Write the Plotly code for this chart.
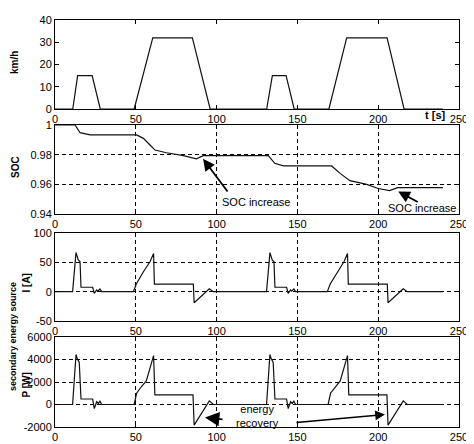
import plotly.graph_objects as go

# ---------------- data ----------------
t_speed = [0, 11, 14, 23, 28, 49, 60.5, 85, 96, 131, 134.5, 143, 148, 169.5, 180.5, 205.5, 216, 240]
speed = [0, 0, 15, 15, 0, 0, 32, 32, 0, 0, 15, 15, 0, 0, 32, 32, 0, 0]

t_soc = [0, 12.4, 15.5, 21.7, 50.5, 54.7, 58.8, 61.9, 69, 79.4, 87.5, 89.7, 91.8,
         132, 136, 141.3, 171.2, 176.4, 182.5, 192.9, 200, 207, 210, 212, 240]
soc = [1.0, 1.0, 0.9948, 0.9933, 0.9933, 0.991, 0.9865, 0.9831, 0.9813, 0.9793, 0.9772, 0.9785, 0.9793,
       0.9793, 0.9742, 0.9724, 0.9724, 0.9674, 0.9625, 0.9600, 0.9572, 0.9558, 0.9570, 0.9578, 0.9578]

t_cur = [0, 10.9, 13, 14.4, 15.5, 16.1, 23.3, 24.3, 25.8, 26.5, 27.8, 28.9,
         48.5, 50.3, 54.7, 58.8, 61, 61.5, 85.6, 86.1, 95.5, 98,
         130.9, 133, 134.4, 135.5, 136.1, 143.3, 144.3, 145.8, 146.5, 147.8, 148.9,
         168.5, 170.3, 174.7, 178.8, 181, 181.5, 205.6, 206.1, 215.5, 218, 240]
cur = [0, 0, 66.5, 54, 51, 7.5, 7.5, -3, 3, 1, 4.6, 0,
       0, 13, 34, 51, 65, 13, 13, -19, 5, 0,
       0, 66.5, 54, 51, 7.5, 7.5, -3, 3, 1, 4.6, 0,
       0, 13, 34, 51, 65, 13, 13, -19, 5, 0, 0]

t_pow = [0, 10.9, 13, 13.8, 15, 16.1, 23.3, 24.3, 25.8, 26.8, 27.8, 28.9,
         49, 50.5, 53.5, 56.5, 61, 61.8, 85.4, 86.1, 95.5, 98,
         130.9, 133, 133.8, 135, 136.1, 143.3, 144.3, 145.8, 146.8, 147.8, 148.9,
         169, 170.5, 173.5, 176.5, 181, 181.8, 205.4, 206.1, 215.5, 218, 240]
power = [0, 0, 4450, 4060, 3760, 490, 490, -370, 250, 90, 300, 0,
         0, 1000, 1600, 2100, 4350, 850, 850, -1830, 320, 0,
         0, 4450, 4060, 3760, 490, 490, -370, 250, 90, 300, 0,
         0, 1000, 1600, 2100, 4350, 850, 850, -1830, 320, 0, 0]

x_ticks = [0, 50, 100, 150, 200, 250]
speed_ticks = [0, 10, 20, 30, 40]
soc_ticks = [0.94, 0.96, 0.98, 1.0]
soc_tick_text = ["0.94", "0.96", "0.98", "1"]
cur_ticks = [-50, 0, 50, 100]
cur_tick_text = ["-50", "0", "50", "100"]
pow_ticks = [-2000, 0, 2000, 4000, 6000]
pow_tick_text = ["-2000", "0", "2000", "4000", "6000"]

# ---------------- figure ----------------
OFF = 8  # page body margin
W, H = 474 - OFF, 444 - OFF
FONT = "Liberation Sans, Arial, sans-serif"
LINE = dict(color="#111111", width=1.2)

fig = go.Figure()
fig.add_trace(go.Scatter(x=t_speed, y=speed, mode="lines", line=LINE, xaxis="x", yaxis="y"))
fig.add_trace(go.Scatter(x=t_soc, y=soc, mode="lines", line=LINE, xaxis="x2", yaxis="y2"))
fig.add_trace(go.Scatter(x=t_cur, y=cur, mode="lines", line=LINE, xaxis="x3", yaxis="y3"))
fig.add_trace(go.Scatter(x=t_pow, y=power, mode="lines", line=LINE, xaxis="x4", yaxis="y4"))


def px_x(p):
    return (p - OFF) / W


def px_y(p):
    return 1 - (p - OFF) / H


xdom = [px_x(55), px_x(459)]
ydoms = [[px_y(109), px_y(20)], [px_y(214), px_y(125)], [px_y(321), px_y(233)], [px_y(427), px_y(337)]]

base = dict(showline=True, linecolor="black", linewidth=1, mirror="ticks", ticks="inside",
            ticklen=4, tickcolor="black", tickfont=dict(family=FONT, size=11, color="black"),
            zeroline=False, automargin=False, fixedrange=True)
grid = dict(showgrid=True, gridcolor="black", gridwidth=1, griddash="4px,3px")
nogrid = dict(showgrid=False)

layout = dict(width=W, height=H, margin=dict(l=0, r=0, t=0, b=0), template="none",
              paper_bgcolor="white", plot_bgcolor="white", showlegend=False,
              font=dict(family=FONT, size=11, color="black"))

names = ["", "2", "3", "4"]
yspecs = [
    dict(range=[0, 40], tickvals=speed_ticks),
    dict(range=[0.94, 1.0], tickvals=soc_ticks, ticktext=soc_tick_text),
    dict(range=[-50, 100], tickvals=cur_ticks, ticktext=cur_tick_text),
    dict(range=[-2000, 6000], tickvals=pow_ticks, ticktext=pow_tick_text),
]
for i, n in enumerate(names):
    g = nogrid if i == 0 else grid
    layout["xaxis" + n] = dict(base, **g, domain=xdom, range=[0, 250], tickvals=x_ticks,
                               anchor="y" + n)
    layout["yaxis" + n] = dict(base, **g, domain=ydoms[i], anchor="x" + n, **yspecs[i])

fig.update_layout(**layout)

ann = []
tfont = dict(family=FONT, size=10, color="black", weight="bold")
# axis titles
ann.append(dict(text="km/h", x=px_x(15), y=px_y(63), textangle=-90, font=tfont))
ann.append(dict(text="SOC", x=px_x(15), y=px_y(167), textangle=-90, font=tfont))
ann.append(dict(text="I [A]", x=px_x(25.5), y=px_y(283), textangle=-90, font=tfont))
ann.append(dict(text="P [W]", x=px_x(25.5), y=px_y(385), textangle=-90, font=tfont))
ann.append(dict(text="secondary energy source", x=px_x(13), y=px_y(337), textangle=-90,
                font=dict(family=FONT, size=9, color="black", weight="bold")))
ann.append(dict(text="t [s]", x=px_x(435), y=px_y(115), font=dict(family=FONT, size=11, color="black", weight="bold")))
for a in ann:
    a.update(xref="paper", yref="paper", showarrow=False, xanchor="center", yanchor="middle")

afont = dict(family=FONT, size=11, color="black")
# SOC increase annotations
ann.append(dict(x=91.6, y=0.9772, ax=107.5, ay=0.9542, xref="x2", yref="y2", axref="x2", ayref="y2",
                text="", showarrow=True, arrowhead=2, arrowsize=1.3, arrowwidth=1.8, arrowcolor="black"))
ann.append(dict(x=124.5, y=0.9480, xref="x2", yref="y2", text="SOC increase", showarrow=False, font=afont))
ann.append(dict(x=212.4, y=0.9552, ax=225.4, ay=0.9476, xref="x2", yref="y2", axref="x2", ayref="y2",
                text="", showarrow=True, arrowhead=2, arrowsize=1.3, arrowwidth=1.8, arrowcolor="black"))
ann.append(dict(x=227.4, y=0.9443, xref="x2", yref="y2", text="SOC increase", showarrow=False, font=afont))
# energy recovery
ann.append(dict(x=92.8, y=-1160, ax=104.6, ay=-1340, xref="x4", yref="y4", axref="x4", ayref="y4",
                text="", showarrow=True, arrowhead=2, arrowsize=1.6, arrowwidth=1.8, arrowcolor="black"))
ann.append(dict(x=204.2, y=-890, ax=148.5, ay=-1620, xref="x4", yref="y4", axref="x4", ayref="y4",
                text="", showarrow=True, arrowhead=2, arrowsize=1.3, arrowwidth=1.5, arrowcolor="black"))
ann.append(dict(x=125, y=-990, xref="x4", yref="y4", text="energy<br>recovery", showarrow=False,
                font=afont))

fig.update_layout(annotations=ann)
fig.write_html("out.html")
